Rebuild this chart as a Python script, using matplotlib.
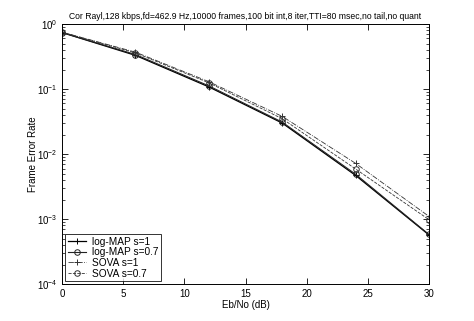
import matplotlib
matplotlib.use("Agg")
import matplotlib.pyplot as plt

plt.rcParams['font.family'] = ['Liberation Sans', 'DejaVu Sans']

ebno = [0, 6, 12, 18, 24, 30]
logmap_s1 = [0.74, 0.33, 0.108, 0.030, 0.0047, 0.00057]
logmap_s07 = [0.74, 0.34, 0.112, 0.031, 0.0049, 0.00058]
sova_s1 = [0.75, 0.37, 0.130, 0.038, 0.0072, 0.0011]
sova_s07 = [0.75, 0.36, 0.125, 0.035, 0.0059, 0.00098]
labels = ["log-MAP s=1", "log-MAP s=0.7", "SOVA s=1", "SOVA s=0.7"]
title = "Cor Rayl,128 kbps,fd=462.9 Hz,10000 frames,100 bit int,8 iter,TTI=80 msec,no tail,no quant"

fig = plt.figure(figsize=(4.74, 3.21), dpi=100)
ax = fig.add_axes([0.131, 0.115, 0.774, 0.81])

ax.semilogy(ebno, logmap_s1, '-', marker='+', color='black', lw=0.9, ms=5, mew=0.7, label=labels[0])
ax.semilogy(ebno, logmap_s07, '-', marker='o', color='#222222', lw=0.8, ms=4, mfc='none', mew=0.7, label=labels[1])
ax.semilogy(ebno, sova_s1, '-.', marker='+', color='#333333', lw=0.6, ms=5, mew=0.7, label=labels[2])
ax.semilogy(ebno, sova_s07, '--', marker='o', color='#333333', lw=0.6, ms=4, mfc='none', mew=0.7, label=labels[3])

ax.set_xlim(0, 30)
ax.set_ylim(1e-4, 1)
ax.set_xticks([0, 5, 10, 15, 20, 25, 30])
ax.tick_params(which='both', direction='in', top=True, right=True, labelsize=7)
ax.tick_params(which='major', length=4, width=0.6)
ax.tick_params(which='minor', length=2, width=0.5)
for s in ax.spines.values():
    s.set_linewidth(0.7)
ax.set_xlabel("Eb/No (dB)", fontsize=7, labelpad=1)
ax.set_ylabel("Frame Error Rate", fontsize=7, labelpad=-1)
ax.set_title(title, fontsize=6.2, pad=4)

leg = ax.legend(loc='lower left', fontsize=7.3, frameon=True, fancybox=False,
                edgecolor='black', handlelength=1.8, borderpad=0.25, labelspacing=0.05,
                borderaxespad=0.3, handletextpad=0.6)
leg.get_frame().set_linewidth(0.7)

fig.savefig("out.png", dpi=100)
